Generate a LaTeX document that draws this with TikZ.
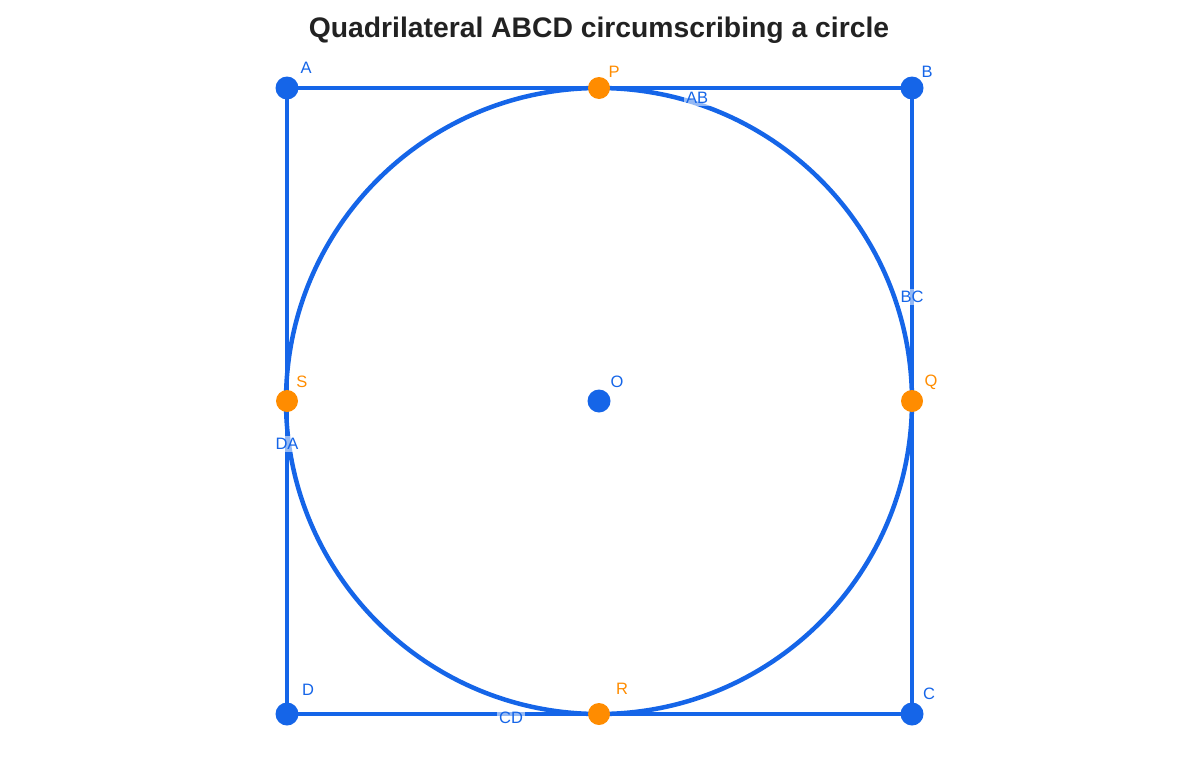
\documentclass[tikz,border=0pt]{standalone}
\usepackage{fontspec}
\setmainfont{Liberation Sans}
\definecolor{eblue}{RGB}{21,101,232}
\definecolor{eorange}{RGB}{255,140,0}
\definecolor{etitle}{RGB}{34,34,34}
\begin{document}
\begin{tikzpicture}[x=1pt,y=-1pt,
  edge/.style={draw=eblue,line width=4.5pt},
  vdot/.style={circle,fill=eblue,inner sep=0pt,minimum size=23pt},
  tdot/.style={circle,fill=eorange,inner sep=0pt,minimum size=22pt},
  vlab/.style={text=eblue,font=\fontsize{16.5}{16.5}\selectfont,inner sep=0pt},
  tlab/.style={text=eorange,font=\fontsize{16.5}{16.5}\selectfont,inner sep=0pt},
  elab/.style={text=eblue,font=\fontsize{16.5}{16.5}\selectfont,fill=white,fill opacity=0.55,text opacity=1,inner sep=2pt}]
\useasboundingbox (0,0) rectangle (1200,763);
\node[font=\bfseries\fontsize{28.3}{28.3}\selectfont,text=etitle] (title) at (599,30) {Quadrilateral ABCD circumscribing a circle};
\coordinate (A) at (287,88);
\coordinate (B) at (912,88);
\coordinate (C) at (912,714);
\coordinate (D) at (287,714);
\coordinate (Oc) at (599,401);
\draw[edge] (A) -- (B) -- (C) -- (D) -- cycle;
\draw[edge] (Oc) circle (313);
\node[elab] (lAB) at (697,98) {AB};
\node[elab] (lBC) at (912,297) {BC};
\node[elab] (lDA) at (287,444) {DA};
\node[elab] (lCD) at (511,718) {CD};
\node[vdot] (dA) at (A) {};
\node[vdot] (dB) at (B) {};
\node[vdot] (dC) at (C) {};
\node[vdot] (dD) at (D) {};
\node[vdot] (dO) at (Oc) {};
\node[tdot] (P) at (599,88) {};
\node[tdot] (Q) at (912,401) {};
\node[tdot] (R) at (599,714) {};
\node[tdot] (S) at (287,401) {};
\node[vlab] (tA) at (306,68) {A};
\node[vlab] (tB) at (927,72) {B};
\node[vlab] (tC) at (929,694) {C};
\node[vlab] (tD) at (308,690) {D};
\node[vlab] (tO) at (617,382) {O};
\node[tlab] (tP) at (614,72) {P};
\node[tlab] (tQ) at (931,382) {Q};
\node[tlab] (tR) at (622,689) {R};
\node[tlab] (tS) at (302,382) {S};
\end{tikzpicture}
\end{document}
